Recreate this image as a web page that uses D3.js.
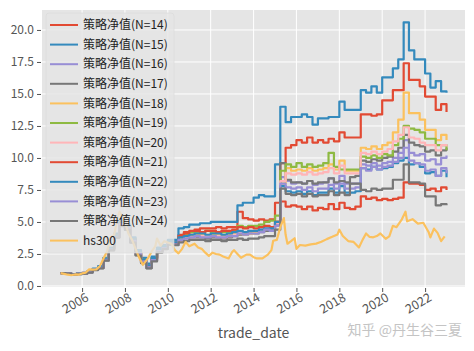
<!DOCTYPE html>
<html><head><meta charset="utf-8">
<script src="https://cdn.jsdelivr.net/npm/d3@7/dist/d3.min.js"></script>
<style>
body{margin:0;background:#fff}
svg{display:block}
text{font-family:"Noto Sans CJK SC","Noto Sans",sans-serif}
</style>
</head><body>
<svg id="c" width="474" height="351"></svg>
<script>
// ---------- DATA ----------
const seriesNames = ["策略净值(N=14)","策略净值(N=15)","策略净值(N=16)","策略净值(N=17)","策略净值(N=18)","策略净值(N=19)","策略净值(N=20)","策略净值(N=21)","策略净值(N=22)","策略净值(N=23)","策略净值(N=24)"];
const seriesColors = ["#E24A33","#348ABD","#988ED5","#777777","#FBC15E","#8EBA42","#FFB5B8","#E24A33","#348ABD","#988ED5","#777777"];
const hsName = "hs300";
const hsColor = "#FBC15E";
// quarterly observation dates 2005-01 .. 2023-01
const quarterDates = d3.timeMonth.every(3).range(new Date(2005,0,1), new Date(2023,0,2));

const n14 = [1.00,0.97,0.91,0.96,1.02,1.12,1.32,1.50,2.15,2.95,4.00,5.00,4.70,3.70,2.70,2.05,1.60,2.20,2.90,3.10,3.50,3.40,
 4.0,4.2, 4.2,4.4,4.5,4.5, 4.5,4.6,4.5,4.6, 4.6,5.8,5.3,5.2, 5.1,5.2,5.1,5.2, 6.5,9.6,10.8,11.0, 11.4,11.2,11.6,11.2,
 11.4,11.2,11.5,11.3, 12.0,11.6,11.6,11.6, 13.4,13.4,13.3,13.4, 14.5,14.5,15.3,15.3, 17.4,16.1,16.1,15.6, 14.8,14.8,13.75,14.2, 13.6];
const n15 = [1.00,0.98,0.92,0.97,1.03,1.15,1.35,1.55,2.20,3.00,4.10,5.10,4.80,3.80,2.80,2.20,1.75,2.30,3.00,3.20,3.60,3.60,
 4.5,4.6, 4.8,4.8,4.9,4.9, 5.0,5.0,5.0,5.0, 5.0,6.3,6.5,6.5, 6.9,7.1,7.0,7.0, 9.5,14.0,12.8,13.2, 13.2,13.4,13.2,12.6,
 13.1,13.1,13.2,13.2, 14.4,13.75,13.75,13.75, 15.3,15.1,15.6,15.1, 16.3,16.3,17.0,17.7, 20.6,18.4,17.7,17.7, 16.6,15.5,16.0,15.2, 15.1];
const n16 = [1.00,0.96,0.89,0.94,0.98,1.08,1.28,1.42,2.05,2.85,3.85,4.80,4.50,3.50,2.50,1.90,1.45,2.00,2.70,2.95,3.30,3.25,
 3.6,3.8, 3.9,3.9,4.0,3.9, 3.9,3.9,3.8,3.9, 4.0,4.1,4.1,4.2, 4.2,4.4,4.5,4.4, 4.8,8.5,8.2,8.0, 8.1,8.0,8.2,7.9,
 8.0,8.1,8.4,8.0, 8.6,8.0,8.0,8.0, 9.5,9.4,9.6,9.4, 9.6,9.7,10.0,10.4, 11.4,10.4,10.2,10.3, 9.8,9.9,9.5,10.0, 10.2];
const n17 = [1.00,0.96,0.88,0.93,0.97,1.06,1.25,1.40,2.00,2.80,3.80,4.70,4.40,3.40,2.40,1.80,1.40,1.95,2.65,2.90,3.25,3.20,
 3.5,3.7, 3.8,3.8,3.8,3.7, 3.8,3.8,3.7,3.8, 3.9,4.0,4.0,4.1, 4.1,4.2,4.3,4.4, 5.0,9.6,8.3,8.1, 8.1,8.0,8.2,8.0,
 8.1,8.1,8.4,8.1, 8.2,8.1,8.5,8.6, 9.8,9.7,9.9,9.8, 10.0,10.1,10.5,10.8, 11.8,11.2,11.0,10.9, 10.5,10.6,10.2,10.6, 10.8];
const n18 = [1.00,0.97,0.90,0.95,1.00,1.10,1.30,1.46,2.12,2.92,3.92,4.92,4.62,3.62,2.62,2.02,1.58,2.12,2.82,3.02,3.42,3.32,
 3.6,3.8, 3.9,4.0,4.0,4.0, 4.0,4.0,3.9,4.0, 4.1,4.1,4.0,4.1, 4.2,4.3,4.5,4.6, 5.0,8.0,9.2,9.0, 9.1,9.0,9.2,9.0,
 9.1,9.2,9.5,9.1, 9.8,9.0,9.0,9.0, 10.8,10.7,10.9,10.7, 11.0,11.2,12.0,13.0, 15.1,13.5,13.5,13.0, 12.2,12.2,11.4,11.8, 11.4];
const n19 = [1.00,0.97,0.90,0.95,1.01,1.11,1.31,1.47,2.13,2.93,3.95,4.95,4.65,3.65,2.65,2.05,1.60,2.15,2.85,3.05,3.45,3.35,
 3.8,4.0, 4.2,4.2,4.2,4.3, 4.2,4.2,4.2,4.2, 4.3,4.7,4.6,4.7, 4.7,4.8,5.0,5.1, 5.5,9.0,9.5,9.3, 9.6,9.3,9.5,9.3,
 9.4,9.6,10.4,9.3, 9.1,9.1,9.1,9.1, 10.1,10.0,10.2,10.0, 10.3,10.2,11.0,11.5, 12.5,12.3,12.2,12.0, 11.5,11.5,11.0,11.0, 10.6];
const n20 = [1.00,0.97,0.90,0.95,1.00,1.09,1.29,1.44,2.08,2.88,3.88,4.88,4.58,3.58,2.58,1.98,1.52,2.08,2.78,2.98,3.38,3.28,
 3.5,3.7, 3.8,3.9,3.9,3.9, 3.9,3.9,3.8,3.9, 4.0,4.2,4.2,4.3, 4.3,4.4,4.5,4.5, 4.9,8.2,8.8,8.7, 8.8,8.7,8.9,8.7,
 8.8,8.9,9.2,8.8, 9.4,8.8,8.8,8.8, 10.4,10.3,10.5,10.3, 10.5,10.7,11.3,11.8, 12.4,11.6,11.5,11.2, 11.0,11.0,10.6,11.0, 10.9];
const n21 = [1.00,0.97,0.90,0.95,1.00,1.10,1.30,1.45,2.10,2.90,3.90,4.90,4.60,3.60,2.60,2.00,1.55,2.10,2.80,3.00,3.40,3.30,
 3.9,4.1, 4.3,4.3,4.2,4.3, 4.3,4.2,4.3,4.3, 4.4,4.6,4.5,4.6, 4.5,4.6,4.7,4.6, 5.0,6.6,6.2,6.3, 6.2,6.0,6.2,5.9,
 6.1,6.0,6.4,6.0, 6.5,6.1,6.0,6.2, 7.0,6.8,6.9,6.7, 6.8,6.7,6.8,6.9, 8.1,8.0,8.0,7.9, 7.5,7.6,7.4,7.7, 7.5];
const n22 = [1.00,0.97,0.91,0.96,1.01,1.12,1.32,1.48,2.14,2.94,3.94,4.94,4.64,3.64,2.64,2.04,1.62,2.18,2.88,3.08,3.48,3.40,
 3.8,3.9, 4.0,4.1,4.1,4.0, 4.1,4.1,4.0,4.1, 4.2,4.3,4.2,4.3, 4.3,4.4,4.5,4.5, 5.0,7.8,7.4,7.3, 7.4,7.2,7.4,7.1,
 7.3,7.3,7.6,7.3, 7.8,7.3,7.3,7.4, 9.2,9.1,9.3,9.1, 9.2,9.3,9.6,9.8, 10.0,9.5,9.6,9.3, 8.8,8.9,8.6,9.0, 8.5];
const n23 = [1.00,0.96,0.89,0.94,0.99,1.08,1.27,1.42,2.04,2.84,3.84,4.82,4.52,3.52,2.52,1.92,1.46,2.02,2.72,2.94,3.32,3.24,
 3.6,3.7, 3.8,3.9,3.8,3.8, 3.9,3.8,3.8,3.9, 3.9,4.1,4.0,4.1, 4.1,4.2,4.4,4.3, 4.7,8.0,7.7,7.6, 7.7,7.5,7.7,7.4,
 7.6,7.6,7.9,7.6, 8.0,7.6,7.6,7.7, 9.2,9.0,9.3,9.1, 9.3,9.4,9.7,10.0, 10.8,9.8,9.6,9.5, 9.0,9.1,8.6,9.2, 8.8];
const n24 = [1.00,0.96,0.88,0.93,0.97,1.05,1.24,1.38,1.98,2.78,3.78,4.68,4.38,3.38,2.38,1.78,1.38,1.92,2.62,2.88,3.22,3.18,
 3.4,3.5, 3.6,3.6,3.6,3.5, 3.6,3.6,3.5,3.6, 3.6,3.7,3.6,3.7, 3.7,3.8,3.9,3.9, 4.4,7.6,7.2,7.1, 7.2,7.0,7.2,7.0,
 7.1,7.1,7.4,7.1, 7.3,7.1,8.0,8.0, 7.5,7.4,7.6,7.5, 7.6,7.6,8.3,8.3, 9.5,8.1,8.1,8.0, 7.0,7.0,6.3,6.4, 6.3];
const strategyValues = [n14,n15,n16,n17,n18,n19,n20,n21,n22,n23,n24];

const hsDates = ["2005-01","2005-03","2005-05","2005-07","2005-09","2005-11","2006-01","2006-03","2006-05","2006-07","2006-09","2006-11",
 "2007-01","2007-03","2007-05","2007-07","2007-09","2007-10","2007-12","2008-01","2008-03","2008-05","2008-07","2008-09","2008-11","2008-12",
 "2009-02","2009-04","2009-06","2009-07","2009-09","2009-11","2010-01","2010-03","2010-05","2010-07","2010-09","2010-11",
 "2011-01","2011-04","2011-06","2011-08","2011-10","2011-12","2012-02","2012-04","2012-06","2012-08","2012-11",
 "2013-01","2013-02","2013-04","2013-06","2013-09","2013-11","2014-01","2014-03","2014-06","2014-09","2014-11","2014-12",
 "2015-02","2015-04","2015-06","2015-07","2015-08","2015-10","2015-12","2016-01","2016-03","2016-06","2016-09","2016-12",
 "2017-03","2017-06","2017-09","2017-12","2018-01","2018-03","2018-06","2018-09","2018-12","2019-02","2019-04","2019-06",
 "2019-08","2019-10","2019-12","2020-03","2020-05","2020-07","2020-09","2020-12","2021-02","2021-03","2021-06","2021-09",
 "2021-12","2022-03","2022-04","2022-06","2022-08","2022-10","2022-12"];
const hsValues = [1.00,0.94,0.88,0.84,0.90,0.88,0.98,1.03,1.30,1.28,1.30,1.55,
 2.15,2.70,3.80,4.00,5.40,5.80,5.30,5.00,4.10,3.60,2.90,2.20,1.65,1.82,
 2.20,2.70,3.10,3.70,3.15,3.50,3.40,3.30,2.80,2.55,2.90,3.45,
 3.10,3.30,3.00,2.90,2.60,2.35,2.60,2.50,2.45,2.30,2.15,
 2.65,2.80,2.50,2.20,2.45,2.45,2.25,2.15,2.16,2.45,2.80,3.53,
 3.60,4.60,5.30,4.00,3.30,3.50,3.73,2.90,3.20,3.15,3.25,3.31,
 3.45,3.66,3.84,4.03,4.40,3.90,3.51,3.44,3.01,3.60,4.10,3.83,
 3.80,3.90,4.10,3.69,3.87,4.70,4.59,5.21,5.80,5.05,5.22,4.87,
 4.94,4.22,3.80,4.48,4.15,3.50,3.87];

const yTicks = [0,2.5,5,7.5,10,12.5,15,17.5,20];
const xTickYears = [2006,2008,2010,2012,2014,2016,2018,2020,2022];
const xLabel = "trade_date";
const watermark = "知乎 @丹生谷三夏";

// ---------- CHART ----------
const svg = d3.select("#c");
const L=42, R=465, T=10, B=287;
const x = d3.scaleTime().domain([new Date(2004,1,18), new Date(2023,10,12)]).range([L,R]);
const y = d3.scaleLinear().domain([-0.08,21.56]).range([B,T]);
const parseM = d3.timeParse("%Y-%m");

svg.append("rect").attr("x",L).attr("y",T).attr("width",R-L).attr("height",B-T).attr("fill","#E5E5E5");
svg.append("defs").append("clipPath").attr("id","clip").append("rect")
  .attr("x",L).attr("y",T).attr("width",R-L).attr("height",B-T);

// grid
const gy = svg.append("g");
gy.selectAll("line.gy").data(yTicks).join("line")
  .attr("x1",L).attr("x2",R).attr("y1",d=>y(d)).attr("y2",d=>y(d))
  .attr("stroke","#fff").attr("stroke-width",1);
const xTickDates = xTickYears.map(v=>new Date(v,0,1));
gy.selectAll("line.gx").data(xTickDates).join("line")
  .attr("y1",T).attr("y2",B).attr("x1",d=>x(d)).attr("x2",d=>x(d))
  .attr("stroke","#fff").attr("stroke-width",1);

// axes
const yAxis = d3.axisLeft(y).tickValues(yTicks).tickFormat(d3.format(".1f")).tickSize(4).tickPadding(3);
const ga = svg.append("g").attr("transform",`translate(${L-1},0)`).call(yAxis);
ga.select(".domain").remove();
ga.selectAll("line").attr("stroke","#555");
ga.selectAll("text").attr("fill","#555").style("font-size","12px");

const xAxis = d3.axisBottom(x).tickValues(xTickDates).tickFormat(d3.timeFormat("%Y")).tickSize(4).tickPadding(3);
const gx = svg.append("g").attr("transform",`translate(0,${B+1})`).call(xAxis);
gx.select(".domain").remove();
gx.selectAll("line").attr("stroke","#555");
gx.selectAll("text").attr("fill","#555").style("font-size","12.5px")
  .attr("text-anchor","end").attr("dy","0.72em").attr("y",5).attr("x",0)
  .attr("transform","rotate(-30)");

// lines
const stepLine = d3.line().x((d,i)=>x(quarterDates[i])).y(d=>y(d)).curve(d3.curveStepAfter);
const gl = svg.append("g").attr("clip-path","url(#clip)");
strategyValues.forEach((vals,k)=>{
  gl.append("path").attr("d",stepLine(vals)).attr("fill","none")
    .attr("stroke",seriesColors[k]).attr("stroke-width",2.2).attr("stroke-linejoin","round");
});
const hsLine = d3.line().x((d,i)=>x(parseM(hsDates[i]))).y(d=>y(d));
gl.append("path").attr("d",hsLine(hsValues)).attr("fill","none")
  .attr("stroke",hsColor).attr("stroke-width",2.2).attr("stroke-linejoin","round");

// legend
const names = seriesNames.concat([hsName]);
const colors = seriesColors.concat([hsColor]);
const lg = svg.append("g");
lg.append("rect").attr("x",46).attr("y",13).attr("width",128).attr("height",240).attr("rx",3)
  .attr("fill","#E5E5E5").attr("fill-opacity",0.8).attr("stroke","#d8d8d8").attr("stroke-opacity",0.6);
names.forEach((n,k)=>{
  const yy = 25 + k*19.6;
  lg.append("line").attr("x1",50).attr("x2",78).attr("y1",yy).attr("y2",yy)
    .attr("stroke",colors[k]).attr("stroke-width",2);
  lg.append("text").attr("x",83).attr("y",yy).attr("dy","0.35em").text(n)
    .attr("fill","#222").style("font-size","12px");
});

// labels
svg.append("text").attr("x",(L+R)/2).attr("y",338).attr("text-anchor","middle")
  .attr("fill","#555").style("font-size","14px").text(xLabel);
svg.append("text").attr("x",462).attr("y",335).attr("text-anchor","end")
  .attr("fill","#c4c4c4").style("font-size","14px").text(watermark);
</script>
</body></html>
